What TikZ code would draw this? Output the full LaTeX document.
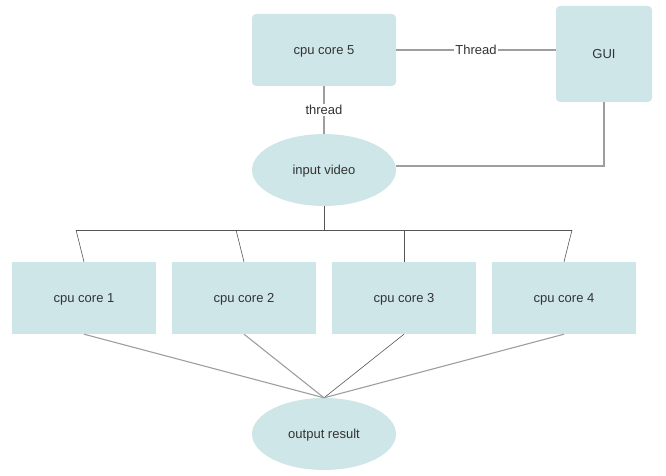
\documentclass[tikz,border=0pt]{standalone}
\usepackage{fontspec}
\setmainfont{Liberation Sans}
\usetikzlibrary{shapes.geometric}
\definecolor{boxfill}{RGB}{206,230,232}
\definecolor{linegray}{RGB}{158,158,158}
\definecolor{thingray}{RGB}{85,85,85}
\definecolor{textgray}{RGB}{51,51,51}
\tikzset{
	corebox/.style={fill=boxfill, draw=none, minimum width=144pt, minimum height=72pt, inner sep=0pt, text=textgray, text depth=0pt, font=\fontsize{13}{15}\selectfont},
	oval/.style={corebox, ellipse},
	wire/.style={draw=linegray, line width=1.1pt},
	thinwire/.style={draw=thingray, line width=0.6pt},
	wirelabel/.style={fill=white, inner sep=1.5pt, text=textgray, text depth=0pt, font=\fontsize{13}{15}\selectfont}
}
\begin{document}
\begin{tikzpicture}[x=1pt,y=-1pt]
	\useasboundingbox (0,0) rectangle (666,476);

	\node[corebox, rounded corners=4pt] (core5) at (324,50) {cpu core 5};
	\node[corebox, rounded corners=4pt, minimum width=96pt, minimum height=96pt] (gui) at (604,54) {GUI};
	\node[oval] (video) at (324,170) {input video};
	\node[oval] (result) at (324,434) {output result};

	\node[corebox] (core1) at (84,298) {cpu core 1};
	\node[corebox] (core2) at (244,298) {cpu core 2};
	\node[corebox] (core3) at (404,298) {cpu core 3};
	\node[corebox] (core4) at (564,298) {cpu core 4};

	\coordinate (tap) at ([yshift=4pt]video.east);
	\coordinate (split) at (324,230);
	\coordinate (b1) at (76,230);
	\coordinate (b2) at (236,230);
	\coordinate (b3) at (404,230);
	\coordinate (b4) at (572,230);

	\draw[wire] (core5.east) -- node[wirelabel] {Thread} (core5.east -| gui.west);
	\draw[wire] (core5.south) -- node[wirelabel] {thread} (video.north);
	\draw[wire] (tap) -- (tap -| gui.south) -- (gui.south);

	\draw[thinwire] (video.south) -- (split);
	\draw[thinwire] (b1) -- (b4);
	\draw[thinwire] (b1) -- (core1.north);
	\draw[thinwire] (b2) -- (core2.north);
	\draw[thinwire] (b3) -- (core3.north);
	\draw[thinwire] (b4) -- (core4.north);

	\draw[wire] (core1.south) -- (result.north);
	\draw[wire] (core2.south) -- (result.north);
	\draw[thinwire] (core3.south) -- (result.north);
	\draw[wire] (core4.south) -- (result.north);
\end{tikzpicture}
\end{document}
